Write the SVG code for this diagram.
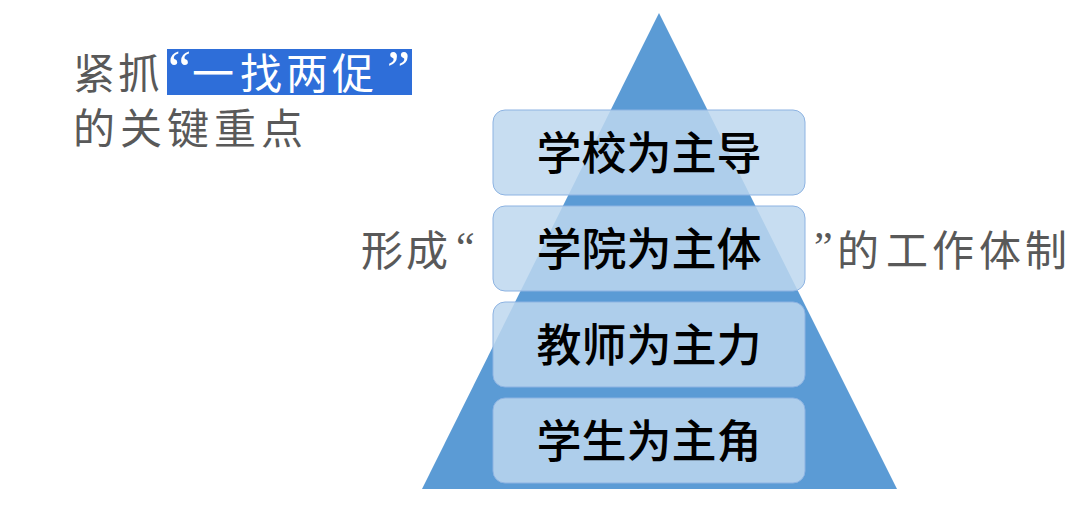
<svg xmlns="http://www.w3.org/2000/svg" width="1080" height="507" viewBox="0 0 1080 507">
<style>
.cjk{font-family:"Noto Sans CJK SC","Noto Sans CJK TC",sans-serif;}
.gray{fill:#595959;font-size:42px;}
.q{font-family:"Liberation Serif",serif;}
.tq{font-size:52px;}
.box{fill:#bdd7ee;fill-opacity:0.85;stroke:#8db3e2;stroke-width:1;}
.lbl{font-family:"Noto Sans CJK SC","Noto Sans CJK TC",sans-serif;font-size:45px;font-weight:500;fill:#000;text-anchor:middle;}
</style>
<rect width="1080" height="507" fill="#fff"/>
<g id="title">
<rect x="167" y="49" width="245" height="46" fill="#2e6ed9"/>
<text class="cjk gray" y="89"><tspan x="73 118">紧抓</tspan><tspan class="q tq" x="168" y="87" fill="#fff">“</tspan><tspan x="192 240 286 332" y="89" fill="#fff">一找两促</tspan><tspan class="q tq" x="387" y="87" fill="#fff">”</tspan></text>
<text class="cjk gray" x="73 120 167 214 261" y="144">的关键重点</text>
</g>
<g id="pyramid">
<polygon points="659,13 422,489 897,489" fill="#5b9bd5"/>
</g>
<g id="mid-text">
<text class="cjk gray" y="266"><tspan x="361 406">形成</tspan><tspan class="q" x="456" y="261">“</tspan></text>
<text class="cjk gray" y="266"><tspan class="q" x="814" y="261">”</tspan><tspan x="837 886 932 979 1025" y="266">的工作体制</tspan></text>
</g>
<g id="node1"><rect class="box" x="493" y="110" width="312" height="85" rx="12"/><text class="lbl" x="649" y="170">学校为主导</text></g>
<g id="node2"><rect class="box" x="493" y="206" width="312" height="85" rx="12"/><text class="lbl" x="649" y="266">学院为主体</text></g>
<g id="node3"><rect class="box" x="493" y="302" width="312" height="85" rx="12"/><text class="lbl" x="649" y="362">教师为主力</text></g>
<g id="node4"><rect class="box" x="493" y="398" width="312" height="85" rx="12"/><text class="lbl" x="649" y="458">学生为主角</text></g>
<g id="connectors"/>
</svg>
